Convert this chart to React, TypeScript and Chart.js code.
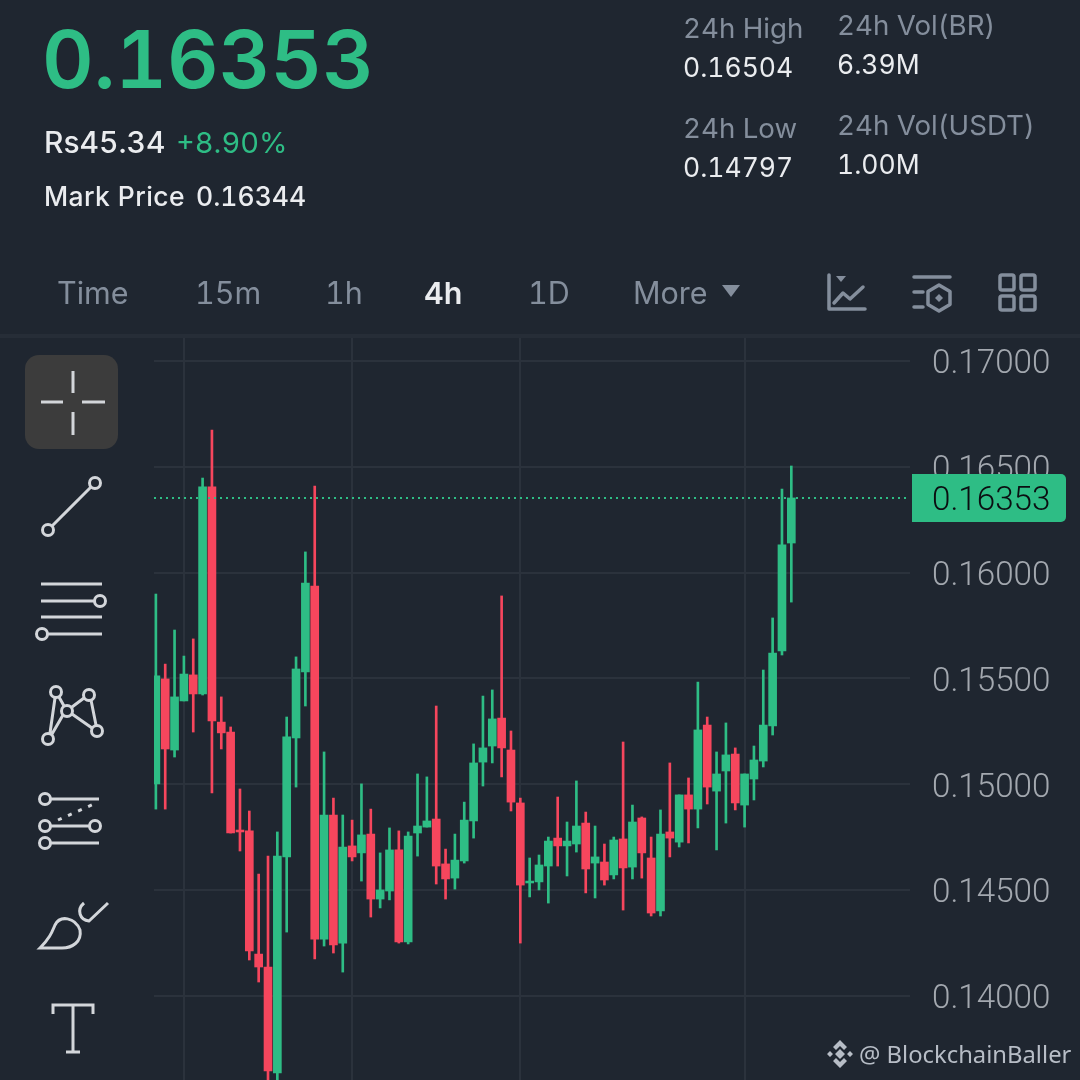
import React, { useEffect, useRef } from "react";
import { Chart, registerables } from "chart.js";

Chart.register(...registerables);

const opens = [
  0.15002, 0.15498, 0.15162, 0.15394, 0.15517, 0.15427, 0.16405, 0.15294, 0.15247, 0.14784,
  0.14780, 0.14198, 0.14137, 0.13636, 0.14657, 0.15219, 0.15531, 0.15937, 0.14269, 0.14855,
  0.14250, 0.14709, 0.14676, 0.14765, 0.14458, 0.14496, 0.14690, 0.14255, 0.14770, 0.14798,
  0.14836, 0.14624, 0.14557, 0.14638, 0.14827, 0.15105, 0.15181, 0.15313, 0.15162, 0.14912,
  0.14534, 0.14539, 0.14614, 0.14746, 0.14709, 0.14718, 0.14817, 0.14628, 0.14633, 0.14572,
  0.14742, 0.14609, 0.14841, 0.14652, 0.14402, 0.14775, 0.14727, 0.14950, 0.14883, 0.15280,
  0.14968, 0.15063, 0.15143, 0.14902, 0.15025, 0.15110, 0.15276, 0.15630, 0.16140,
];
const closes = [
  0.15512, 0.15167, 0.15413, 0.15521, 0.15427, 0.16405, 0.15299, 0.15243, 0.14770, 0.14775,
  0.14213, 0.14137, 0.13646, 0.14661, 0.15224, 0.15545, 0.15951, 0.14269, 0.14855, 0.14241,
  0.14704, 0.14657, 0.14761, 0.14458, 0.14501, 0.14690, 0.14255, 0.14756, 0.14803, 0.14827,
  0.14614, 0.14553, 0.14642, 0.14831, 0.15101, 0.15172, 0.15309, 0.15172, 0.14916, 0.14524,
  0.14543, 0.14619, 0.14732, 0.14709, 0.14732, 0.14803, 0.14600, 0.14657, 0.14548, 0.14737,
  0.14605, 0.14822, 0.14676, 0.14392, 0.14765, 0.14746, 0.14950, 0.14883, 0.15257, 0.14987,
  0.15049, 0.15139, 0.14912, 0.15049, 0.15115, 0.15280, 0.15620, 0.16131, 0.16353,
];
const highs = [
  0.15899, 0.15568, 0.15729, 0.15606, 0.15687, 0.16447, 0.16674, 0.15413, 0.15271, 0.14978,
  0.14874, 0.14576, 0.14661, 0.14775, 0.15318, 0.15602, 0.16098, 0.16409, 0.15153, 0.14935,
  0.14855, 0.14831, 0.15002, 0.14883, 0.14676, 0.14794, 0.14780, 0.14775, 0.15049, 0.15035,
  0.15370, 0.14694, 0.14765, 0.14916, 0.15191, 0.15417, 0.15446, 0.15890, 0.15252, 0.14935,
  0.14652, 0.14666, 0.14751, 0.14940, 0.14822, 0.15016, 0.14869, 0.14803, 0.14718, 0.14751,
  0.15200, 0.14902, 0.14846, 0.14751, 0.14879, 0.15101, 0.14950, 0.15030, 0.15483, 0.15318,
  0.15153, 0.15290, 0.15172, 0.15049, 0.15181, 0.15540, 0.15786, 0.16395, 0.16504,
];
const lows = [
  0.14883, 0.14883, 0.15129, 0.15394, 0.15247, 0.15422, 0.14959, 0.15167, 0.14770, 0.14685,
  0.14170, 0.14066, 0.13579, 0.13579, 0.14302, 0.14987, 0.15370, 0.14175, 0.14236, 0.14203,
  0.14113, 0.14638, 0.14543, 0.14373, 0.14416, 0.14454, 0.14250, 0.14246, 0.14661, 0.14798,
  0.14529, 0.14458, 0.14505, 0.14628, 0.14746, 0.14992, 0.15101, 0.15035, 0.14874, 0.14250,
  0.14468, 0.14501, 0.14439, 0.14614, 0.14567, 0.14680, 0.14487, 0.14463, 0.14524, 0.14553,
  0.14406, 0.14553, 0.14557, 0.14378, 0.14378, 0.14657, 0.14704, 0.14723, 0.14794, 0.14907,
  0.14690, 0.14817, 0.14879, 0.14798, 0.14926, 0.15082, 0.15233, 0.15611, 0.15861,
];
const priceTicks = [0.14, 0.145, 0.15, 0.155, 0.16, 0.165, 0.17];
const timeTicks = [3, 21, 39, 63];
const lastPrice = 0.16353;

const BG = "#1f2630";
const GREEN = "#2ebd85";
const RED = "#f6465d";
const GRID = "#2b323c";
const GRAY = "#848e9c";
const WHITE = "#eaecef";
const ICON = "#d3d6da";
const SANS = '"Noto Sans", sans-serif';
const INTER = "Inter, sans-serif";

const priceLine = {
  id: "priceLine",
  afterDatasetsDraw(chart: any) {
    const { ctx, scales, chartArea } = chart;
    const y = Math.round(scales.y.getPixelForValue(lastPrice));
    ctx.save();
    ctx.strokeStyle = GREEN;
    ctx.lineWidth = 2;
    ctx.setLineDash([2, 4]);
    ctx.beginPath();
    ctx.moveTo(chartArea.left, y);
    ctx.lineTo(chartArea.right, y);
    ctx.stroke();
    ctx.setLineDash([]);
    ctx.fillStyle = GREEN;
    ctx.beginPath();
    ctx.roundRect(chartArea.right + 2, y - 24, 154, 48, [0, 5, 5, 0]);
    ctx.fill();
    ctx.fillStyle = "#0b0e11";
    ctx.font = "300 33.2px Roboto";
    ctx.textBaseline = "middle";
    ctx.textAlign = "left";
    ctx.fillText(lastPrice.toFixed(5), chartArea.right + 22, y + 4);
    ctx.restore();
  },
};

const zeroPadding = (s: any) => {
  s.paddingTop = 0;
  s.paddingBottom = 0;
  s.paddingLeft = 0;
  s.paddingRight = 0;
};

function Candles() {
  const ref = useRef<HTMLCanvasElement | null>(null);
  useEffect(() => {
    const colors = closes.map((c, i) => (c >= opens[i] ? GREEN : RED));
    const chart = new Chart(ref.current as HTMLCanvasElement, {
      type: "bar",
      data: {
        datasets: [
          {
            data: highs.map((h, i) => ({ x: i, y: [lows[i], h] })),
            backgroundColor: colors,
            barThickness: 2,
            grouped: false,
            order: 2,
          },
          {
            data: opens.map((o, i) => ({ x: i, y: [o, closes[i]] })),
            backgroundColor: colors,
            barThickness: 8,
            grouped: false,
            order: 1,
          },
        ] as any,
      },
      options: {
        responsive: false,
        animation: false,
        devicePixelRatio: 1,
        layout: { padding: { left: 154, top: 0, right: 0, bottom: 0 } },
        plugins: { legend: { display: false }, tooltip: { enabled: false } },
        scales: {
          x: {
            type: "linear",
            offset: false,
            min: -0.2,
            max: 80.7,
            border: { display: false },
            grid: { color: GRID, lineWidth: 2, drawTicks: false, offset: false },
            ticks: { display: false },
            afterBuildTicks: (s: any) => {
              s.ticks = timeTicks.map((value) => ({ value }));
            },
            afterFit: (s: any) => {
              s.height = 0;
              zeroPadding(s);
            },
          },
          y: {
            position: "right",
            min: 0.136031,
            max: 0.171181,
            border: { display: false },
            grid: { color: GRID, lineWidth: 2, drawTicks: false },
            ticks: {
              color: "#a3a8af",
              font: { family: "Roboto", size: 33.2, weight: "300" },
              padding: 22,
              labelOffset: 4,
              crossAlign: "near",
              callback: (v: any) => Number(v).toFixed(5),
            },
            afterBuildTicks: (s: any) => {
              s.ticks = priceTicks.map((value) => ({ value }));
            },
            afterFit: (s: any) => {
              s.width = 170;
              zeroPadding(s);
            },
          },
        },
      } as any,
      plugins: [priceLine],
    });
    return () => chart.destroy();
  }, []);
  return (
    <canvas
      ref={ref}
      width={1080}
      height={744}
      style={{ position: "absolute", left: 0, top: 336, width: 1080, height: 744, display: "block" }}
    />
  );
}

function Overlay() {
  const c = { fill: "none", stroke: ICON, strokeWidth: 3 };
  const line = { stroke: ICON, strokeWidth: 3, fill: "none" };
  const dot = (x: number, y: number) => <circle cx={x} cy={y} r={5.5} {...c} />;
  const g = { fill: "none", stroke: GRAY, strokeWidth: 3.5, strokeLinecap: "round" as const, strokeLinejoin: "round" as const };
  const tn = { fontFamily: INTER, style: { fontVariantNumeric: "tabular-nums" } };
  return (
    <svg width={1080} height={1080} style={{ position: "absolute", left: 0, top: 0 }} fontFamily={SANS}>
      <text x={42} y={88} {...tn} fontSize={80} fontWeight={600} fill={GREEN}>0.16353</text>
      <text x={44} y={153} {...tn} fontSize={30} fontWeight={500} fill={WHITE}>Rs45.34</text>
      <text x={176} y={153} {...tn} fontSize={29} fontWeight={400} fill={GREEN}>+8.90%</text>
      <text x={44} y={206} {...tn} fontSize={26.5} fontWeight={500} letterSpacing={0.4} fill={WHITE}>Mark Price</text>
      <text x={196} y={206} {...tn} fontSize={26.5} fontWeight={500} fill={WHITE}>0.16344</text>

      <text x={683} y={38} {...tn} fontSize={27.7} fill={GRAY}>24h High</text>
      <text x={683} y={77} {...tn} fontSize={26.5} fill={WHITE}>0.16504</text>
      <text x={837} y={35} {...tn} fontSize={27.7} fill={GRAY}>24h Vol(BR)</text>
      <text x={837} y={74} {...tn} fontSize={26.5} fill={WHITE}>6.39M</text>
      <text x={683} y={138} {...tn} fontSize={27.7} fill={GRAY}>24h Low</text>
      <text x={683} y={177} {...tn} fontSize={26.5} fill={WHITE}>0.14797</text>
      <text x={837} y={135} {...tn} fontSize={27.7} fill={GRAY}>24h Vol(USDT)</text>
      <text x={837} y={174} {...tn} fontSize={26.5} fill={WHITE}>1.00M</text>

      <text x={57} y={304} {...tn} fontSize={30.5} fill={GRAY}>Time</text>
      <text x={195} y={304} {...tn} fontSize={30.5} fill={GRAY}>15m</text>
      <text x={325} y={304} {...tn} fontSize={30.5} fill={GRAY}>1h</text>
      <text x={424} y={304} {...tn} fontSize={30.5} fontWeight={600} fill={WHITE}>4h</text>
      <text x={528} y={304} {...tn} fontSize={30.5} fill={GRAY}>1D</text>
      <text x={633} y={304} {...tn} fontSize={30.5} fill={GRAY}>More</text>
      <path d="M722 285 H740 L731 297 Z" fill={GRAY} />

      <path d="M829 275 V309 H865 M834 303 L843 293 L850 299 L863 287" {...g} />
      <path d="M836 276 H846 L841 282 Z" fill={GRAY} />
      <path d="M914 277 H950 M914 292 H923 M914 307 H923 M939 285 L950 291.5 V304.5 L939 311 L928 304.5 V291.5 Z" {...g} />
      <path d="M939 294 L943 298 L939 302 L935 298 Z" fill={GRAY} />
      <rect x={1000} y={275} width={14} height={15} rx={2} {...g} />
      <rect x={1021} y={275} width={14} height={15} rx={2} {...g} />
      <rect x={1000} y={296} width={14} height={14} rx={2} {...g} />
      <rect x={1021} y={296} width={14} height={14} rx={2} {...g} />

      <rect x={0} y={334} width={1080} height={4} fill="#262d37" />

      <rect x={25} y={355} width={93} height={94} rx={14} fill="#3c3c3c" />
      <path d="M41 402 H63 M82 402 H105 M73 371 V393 M73 412 V435" {...line} />

      <path d="M52 526 L91 487" {...line} />
      {dot(95, 483)}
      {dot(48, 530)}

      <path d="M41 584 H102 M41 601 H94 M41 617 H102 M48 634 H102" {...line} />
      {dot(100, 601)}
      {dot(42, 634)}

      <path d="M50 733 L55 698 M59 697 L64 706 M72 707 L84 698 M91 700 L96 725 M72 714 L92 728 M63 715 L52 734" {...line} />
      {dot(56, 692)}
      {dot(89, 695)}
      {dot(67, 711)}
      {dot(48, 739)}
      {dot(97, 731)}

      <path d="M51 799 H99 M51 826 H89 M51 843 H99" {...line} />
      <path d="M58 820 L94 804" {...line} strokeDasharray="4 7" />
      {dot(45, 799)}
      {dot(45, 826)}
      {dot(95, 826)}
      {dot(45, 843)}

      <path d="M40 948 C50 938 52 932 55 925 C60 915 75 917 80 930 C82 942 72 948 62 948 Z" {...line} />
      <path d="M84 903 C76 910 80 920 89 921 L108 903" {...line} />

      <path d="M53 1014 V1005 H93 V1014 M73 1005 V1052 M66 1052 H80" {...line} />

      <path d="M840 1040 L847 1047 L844 1050 L840 1046 L836 1050 L833 1047 Z M840 1068 L833 1061 L836 1058 L840 1062 L844 1058 L847 1061 Z M840 1049 L845 1054 L840 1059 L835 1054 Z M830 1051 L833 1054 L830 1057 L827 1054 Z M850 1051 L853 1054 L850 1057 L847 1054 Z" fill="#b7bdc6" />
      <text x={859} y={1063} fontSize={23.8} fill="#b7bdc6">@ BlockchainBaller</text>
    </svg>
  );
}

export default function App() {
  return (
    <div style={{ position: "relative", width: 1080, height: 1080, background: BG, overflow: "hidden" }}>
      <style>{`html,body{margin:0;padding:0;background:${BG};}`}</style>
      <Candles />
      <Overlay />
    </div>
  );
}
